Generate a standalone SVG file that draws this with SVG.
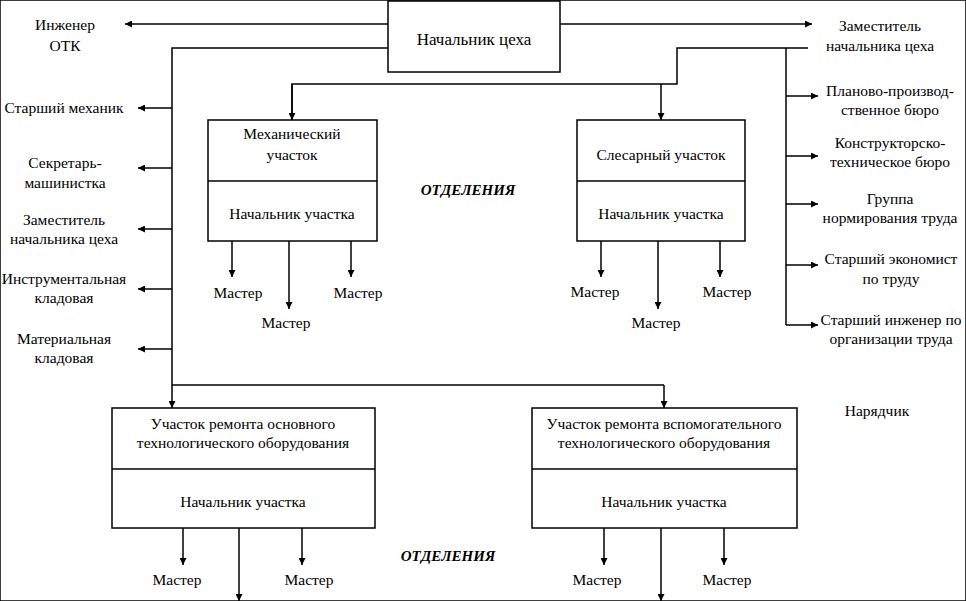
<svg xmlns="http://www.w3.org/2000/svg" width="966" height="601" viewBox="0 0 966 601">
<defs>
<marker id="ah" viewBox="0 0 10 10" refX="10" refY="5" markerWidth="9" markerHeight="7" markerUnits="userSpaceOnUse" orient="auto"><path d="M0,0 L10,5 L0,10 z" fill="#000"/></marker>
<style>
text{font-family:"Liberation Serif","Times New Roman",serif;font-size:15.5px;fill:#000;text-anchor:middle}
.big{font-size:17px}
.bi{font-weight:bold;font-style:italic;font-size:15px}
rect{fill:#fff;stroke:#000;stroke-width:1.5}
.c line,.c path{stroke:#000;stroke-width:1.5;fill:none}
.a{marker-end:url(#ah)}
</style>
</defs>
<rect width="966" height="601" fill="#fff" stroke="none"/>
<g class="c" id="connectors">
<line class="a" x1="388" y1="24" x2="125" y2="24"/>
<line class="a" x1="560" y1="24" x2="812" y2="24"/>
<path d="M388,48 H172 V385 H664"/>
<line class="a" x1="172" y1="385" x2="172" y2="408"/>
<line class="a" x1="664" y1="385" x2="664" y2="408"/>
<line class="a" x1="172" y1="108" x2="138" y2="108"/>
<line class="a" x1="172" y1="168" x2="138" y2="168"/>
<line class="a" x1="172" y1="229" x2="138" y2="229"/>
<line class="a" x1="172" y1="289" x2="138" y2="289"/>
<line class="a" x1="172" y1="349" x2="138" y2="349"/>
<path d="M292,120 V84 H677 V48 H808"/>
<line class="a" x1="292" y1="84" x2="292" y2="120"/>
<line class="a" x1="661" y1="84" x2="661" y2="120"/>
<line x1="786" y1="48" x2="786" y2="325"/>
<line class="a" x1="786" y1="96" x2="818" y2="96"/>
<line class="a" x1="786" y1="156" x2="818" y2="156"/>
<line class="a" x1="786" y1="204" x2="818" y2="204"/>
<line class="a" x1="786" y1="265" x2="818" y2="265"/>
<line class="a" x1="786" y1="325" x2="818" y2="325"/>
<line class="a" x1="232" y1="241" x2="232" y2="277"/>
<line class="a" x1="289" y1="241" x2="289" y2="309"/>
<line class="a" x1="351" y1="241" x2="351" y2="277"/>
<line class="a" x1="601" y1="241" x2="601" y2="277"/>
<line class="a" x1="658" y1="241" x2="658" y2="309"/>
<line class="a" x1="720" y1="241" x2="720" y2="277"/>
<line class="a" x1="183" y1="528" x2="183" y2="565"/>
<line class="a" x1="239" y1="528" x2="239" y2="601"/>
<line class="a" x1="302" y1="528" x2="302" y2="565"/>
<line class="a" x1="604" y1="528" x2="604" y2="565"/>
<line class="a" x1="661" y1="528" x2="661" y2="601"/>
<line class="a" x1="724" y1="528" x2="724" y2="565"/>
</g>
<g id="chief"><rect x="388" y="1" width="172" height="71"/><text class="big" x="474" y="45">Начальник цеха</text></g>
<g id="ing-otk"><text x="65" y="30">Инженер</text><text x="65" y="51">ОТК</text></g>
<g id="st-meh"><text x="64" y="113">Старший механик</text></g>
<g id="sekr"><text x="65" y="168">Секретарь-</text><text x="65" y="188">машинистка</text></g>
<g id="zam-left"><text x="64" y="225">Заместитель</text><text x="64" y="244">начальника цеха</text></g>
<g id="instr"><text x="64" y="284">Инструментальная</text><text x="64" y="303">кладовая</text></g>
<g id="mater"><text x="64" y="344">Материальная</text><text x="64" y="363">кладовая</text></g>
<g id="zam-right"><text x="880" y="31">Заместитель</text><text x="880" y="51">начальника цеха</text></g>
<g id="plan"><text x="890" y="96">Планово-производ-</text><text x="890" y="115">ственное бюро</text></g>
<g id="konstr"><text x="890" y="148">Конструкторско-</text><text x="890" y="167">техническое бюро</text></g>
<g id="norm"><text x="890" y="204">Группа</text><text x="890" y="223">нормирования труда</text></g>
<g id="econ"><text x="891" y="264">Старший экономист</text><text x="891" y="284">по труду</text></g>
<g id="org"><text x="891" y="325">Старший инженер по</text><text x="891" y="344">организации труда</text></g>
<g id="mech"><rect x="208" y="120" width="169" height="121"/><line x1="208" y1="181" x2="377" y2="181" stroke="#000" stroke-width="1.5"/><text x="292" y="139">Механический</text><text x="292" y="160">участок</text><text x="292" y="219">Начальник участка</text></g>
<g id="sles"><rect x="577" y="120" width="168" height="121"/><line x1="577" y1="181" x2="745" y2="181" stroke="#000" stroke-width="1.5"/><text x="661" y="160">Слесарный участок</text><text x="661" y="219">Начальник участка</text></g>
<g id="otd1"><text class="bi" x="468" y="195">ОТДЕЛЕНИЯ</text></g>
<g id="m1"><text x="238" y="298">Мастер</text></g>
<g id="m2"><text x="286" y="328">Мастер</text></g>
<g id="m3"><text x="358" y="298">Мастер</text></g>
<g id="m4"><text x="595" y="297">Мастер</text></g>
<g id="m5"><text x="656" y="328">Мастер</text></g>
<g id="m6"><text x="727" y="297">Мастер</text></g>
<g id="rem1"><rect x="112" y="408" width="263" height="120"/><line x1="112" y1="469" x2="375" y2="469" stroke="#000" stroke-width="1.5"/><text x="243" y="429">Участок ремонта основного</text><text x="243" y="448">технологического оборудования</text><text x="243" y="507">Начальник участка</text></g>
<g id="rem2"><rect x="532" y="408" width="265" height="120"/><line x1="532" y1="469" x2="797" y2="469" stroke="#000" stroke-width="1.5"/><text x="664" y="429">Участок ремонта вспомогательного</text><text x="664" y="448">технологического оборудования</text><text x="664" y="507">Начальник участка</text></g>
<g id="naryad"><text x="877" y="416">Нарядчик</text></g>
<g id="otd2"><text class="bi" x="448" y="561">ОТДЕЛЕНИЯ</text></g>
<g id="m7"><text x="177" y="585">Мастер</text></g>
<g id="m8"><text x="309" y="585">Мастер</text></g>
<g id="m9"><text x="597" y="585">Мастер</text></g>
<g id="m10"><text x="727" y="585">Мастер</text></g>
</svg>
